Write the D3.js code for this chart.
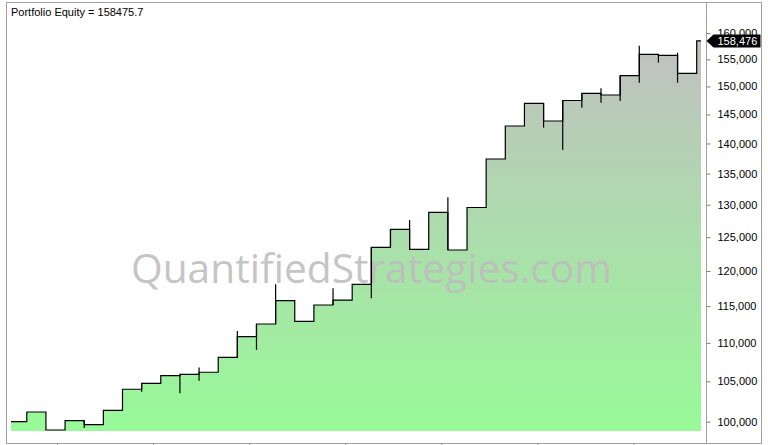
<!DOCTYPE html>
<html>
<head>
<meta charset="utf-8">
<script src="https://cdn.jsdelivr.net/npm/d3@7/dist/d3.min.js"></script>
<style>
  html, body { margin: 0; padding: 0; background: #fff; }
  svg { display: block; }
</style>
</head>
<body>
<svg id="chart" width="768" height="445"></svg>
<script>
// ---- data ----
const title = "Portfolio Equity = 158475.7";
const watermark = "QuantifiedStrategies.com";
// equity level held during each period (period i spans [i, i+1])
const levels = [
  100000, 101180, 99000, 100120, 99640, 101390, 104000, 104750, 105720, 105900,
  106160, 108100, 110830, 112540, 115760, 112910, 115160, 115850, 118080, 123480,
  126200, 123180, 128820, 123080, 129570, 137400, 142990, 146970, 143860, 147470,
  148760, 148450, 151960, 155940, 155750, 152400, 158476
];
// intraperiod excursions at the step boundaries
const wickAt   = [4,     7,      9,      10,     12,     13,     14,     17,     19,     20,     21,     23,     28,     29,     30,     31,     32,     33,     34,     35];
const wickLow  = [99240, 103700, 103500, 105080, null,   109060, null,   null,   116090, null,   null,   null,   142700, 138900, 146190, 147080, 147380, 150670, 154370, 150670];
const wickHigh = [null,  null,   null,   106780, 111590, null,   118080, 117510, null,   125180, 127620, 131180, null,   null,   null,   149660, null,   157570, null,   156240];
const yTicks = [100000, 105000, 110000, 115000, 120000, 125000, 130000, 135000, 140000, 145000, 150000, 155000, 160000];
const xTicks = [2.58, 7.6, 12.62, 17.64, 22.66, 27.68, 32.7];
const lastValue = 158476;

// ---- layout ----
const frame = {left: 6.5, top: 2.5, right: 761.5, bottom: 443.5};
const axisX = 706.5;
const plot = {left: 11, right: 701, bottom: 431};

const svg = d3.select("#chart");

const x = d3.scaleLinear().domain([0.1745, 36.2247]).range([plot.left, plot.right]);
const y = d3.scaleLog().domain([100000, 160000]).range([421.7, 33.06]);

const pts = levels.map((v, i) => ({x: Math.max(i, x.domain()[0]), v}));
pts.push({x: x.domain()[1], v: levels[levels.length - 1]});

// gradient
const defs = svg.append("defs");
const grad = defs.append("linearGradient")
  .attr("id", "fillGrad").attr("gradientUnits", "userSpaceOnUse")
  .attr("x1", 0).attr("x2", 0)
  .attr("y1", y(d3.max(levels))).attr("y2", plot.bottom);
grad.append("stop").attr("offset", "0%").attr("stop-color", "#c0c0c0");
grad.append("stop").attr("offset", "100%").attr("stop-color", "#98fa98");

// area
const area = d3.area().curve(d3.curveStepAfter)
  .x(d => x(d.x)).y0(plot.bottom).y1(d => y(d.v));
svg.append("path").datum(pts).attr("d", area).attr("fill", "url(#fillGrad)");

// watermark
svg.append("text")
  .attr("x", 131).attr("y", 283)
  .attr("textLength", 481).attr("lengthAdjust", "spacingAndGlyphs")
  .attr("font-family", "'Open Sans', sans-serif").attr("font-size", 41)
  .attr("fill", "#bdbdbd").attr("fill-opacity", 0.9)
  .text(watermark);

// step line
const line = d3.line().curve(d3.curveStepAfter).x(d => x(d.x)).y(d => y(d.v));
svg.append("path").datum(pts).attr("d", line)
  .attr("fill", "none").attr("stroke", "#000").attr("stroke-width", 1.2);

// wicks
const wicks = wickAt.map((j, k) => {
  const a = levels[j - 1], b = levels[j];
  const lo = Math.min(a, b, wickLow[k] == null ? Infinity : wickLow[k]);
  const hi = Math.max(a, b, wickHigh[k] == null ? -Infinity : wickHigh[k]);
  return {j, lo, hi};
});
svg.append("g").selectAll("line").data(wicks).join("line")
  .attr("x1", d => x(d.j)).attr("x2", d => x(d.j))
  .attr("y1", d => y(d.lo)).attr("y2", d => y(d.hi))
  .attr("stroke", "#000").attr("stroke-width", 1.2);

// frame
const fc = "#a0a0a0";
svg.append("rect")
  .attr("x", frame.left).attr("y", frame.top)
  .attr("width", frame.right - frame.left).attr("height", frame.bottom - frame.top)
  .attr("fill", "none").attr("stroke", fc).attr("stroke-width", 1);

// right y axis
const yAxis = d3.axisRight(y).tickValues(yTicks).tickFormat(d3.format(",")).tickSize(4).tickPadding(7);
const gy = svg.append("g").attr("transform", `translate(${axisX},0)`).call(yAxis);
gy.select(".domain").attr("d", `M0,${frame.top}V${frame.bottom}`).attr("stroke", fc);
gy.selectAll(".tick line").attr("stroke", "#808080");
gy.selectAll(".tick text").attr("font-family", "'Liberation Sans', Arial, sans-serif")
  .attr("font-size", 11).attr("fill", "#000");

// bottom x axis (labels fall outside the picture)
const xAxis = d3.axisBottom(x).tickValues(xTicks).tickFormat("").tickSize(4).tickSizeOuter(0);
const gx = svg.append("g").attr("transform", `translate(0,${frame.bottom})`).call(xAxis);
gx.select(".domain").attr("d", `M${frame.left},0H${axisX}`).attr("stroke", fc);
gx.selectAll(".tick line").attr("stroke", "#808080");

// last value tag
const ty = y(lastValue);
svg.append("path")
  .attr("d", `M${axisX},${ty}L${axisX + 7},${ty - 6.5}H${frame.right - 1}V${ty + 6.5}H${axisX + 7}Z`)
  .attr("fill", "#000");
svg.append("text")
  .attr("x", axisX + 11).attr("y", ty).attr("dy", "0.36em")
  .attr("font-family", "'Liberation Sans', Arial, sans-serif").attr("font-size", 11)
  .attr("fill", "#fff").text(d3.format(",")(lastValue));

// title
svg.append("text")
  .attr("x", 11).attr("y", 15.5)
  .attr("font-family", "'Liberation Sans', Arial, sans-serif").attr("font-size", 11)
  .attr("fill", "#000").text(title);
</script>
</body>
</html>
